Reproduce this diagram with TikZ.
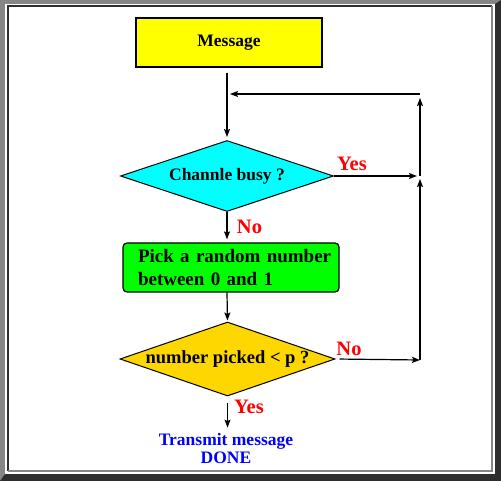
\documentclass[tikz,border=0pt]{standalone}
\usepackage{fontspec}
\setmainfont{Liberation Serif}
\usetikzlibrary{shapes.geometric,arrows.meta}
\definecolor{framegrey}{HTML}{868686}
\definecolor{framedark}{HTML}{2E2E2E}
\definecolor{dgold}{HTML}{FFD700}
\definecolor{dyellow}{HTML}{FFFF00}
\definecolor{dcyan}{HTML}{00FFFF}
\definecolor{dgreen}{HTML}{00FF00}
\definecolor{dred}{HTML}{FF0000}
\definecolor{dblue}{HTML}{0000FF}
\begin{document}
\begin{tikzpicture}[x=1pt,y=-1pt,
  box/.style={draw=black, line width=1.3pt, inner sep=0pt},
  dia/.style={draw=black, line width=1pt, shape=diamond, aspect=3, inner sep=0pt},
  lbl/.style={font=\fontsize{17.5}{21}\selectfont\bfseries},
  ans/.style={text=dred, font=\fontsize{20.5}{24}\selectfont\bfseries, inner sep=0pt},
  flow/.style={line width=1.2pt, -{Stealth[length=8pt,width=6pt,inset=1.5pt]}},
  ]
\useasboundingbox (0,0) rectangle (501,481);
% frame
\fill[framegrey] (0,0) rectangle (501,481);
\fill[framedark] (501,0) -- (501,481) -- (0,481) -- (5,474) -- (495,474) -- (495,4) -- cycle;
\fill[white] (5,4) rectangle (495,474);
\draw[framedark, line width=2pt] (8,471) -- (8,6) -- (492,6);
\draw[framegrey, line width=2pt] (8,471) -- (492,471) -- (492,6);

% nodes
\node[box, fill=dyellow, minimum width=186, minimum height=49, lbl] (msg) at (229,42.5) {Message};
\node[dia, fill=dcyan, minimum width=213, minimum height=71, lbl] (d1) at (227,176) {\makebox[0pt]{Channle busy ?}};
\node[box, fill=dgreen, rounded corners=4pt, minimum width=216, minimum height=49,
      text width=216, inner xsep=0pt, align=left,
      font=\fontsize{19}{23}\selectfont\bfseries] (pick) at (231,267.5)
      {\hspace*{15pt}Pick a random number\\\hspace*{15pt}between 0 and 1};
\node[dia, fill=dgold, minimum width=215, minimum height=74,
      font=\fontsize{18.5}{22}\selectfont\bfseries] (d2) at (227.5,359) {\makebox[0pt]{number picked < p ?}};
\node[text=dblue, font=\fontsize{17.5}{18}\selectfont\bfseries, align=center, inner sep=0pt] (tx) at (226,449) {Transmit message\\DONE};

% junction coordinates
\coordinate (j1) at (420,176);
\coordinate (j2) at (420,360);
\coordinate (cr) at (420,94);
\coordinate (mj) at (227,94);

% connectors
\draw[flow, shorten <=5pt, shorten >=3pt] (d1.north |- msg.south) -- (d1.north);
\draw[flow, shorten >=3pt] (d1.south) -- (d1.south |- pick.north);
\draw[flow, shorten >=1pt] (d1.south |- pick.south) -- (d2.north);
\draw[flow, shorten <=6pt, shorten >=6pt] (d2.south) -- (d2.south |- tx.north);
\draw[flow, shorten >=3pt] (d1.east) -- (j1);
\draw[flow, shorten <=4pt] (d2.east) -- (j2);
\draw[flow, shorten >=3pt] (j2) -- (j1);
\draw[flow, shorten >=4pt] (j1) -- (cr);
\draw[flow, shorten >=3pt] (cr) -- (mj);

% answer labels
\node[ans] (y1) at (352,164) {Yes};
\node[ans] (n1) at (249.5,227) {No};
\node[ans] (n2) at (349,348.5) {No};
\node[ans] (y2) at (249,407) {Yes};
\end{tikzpicture}
\end{document}
